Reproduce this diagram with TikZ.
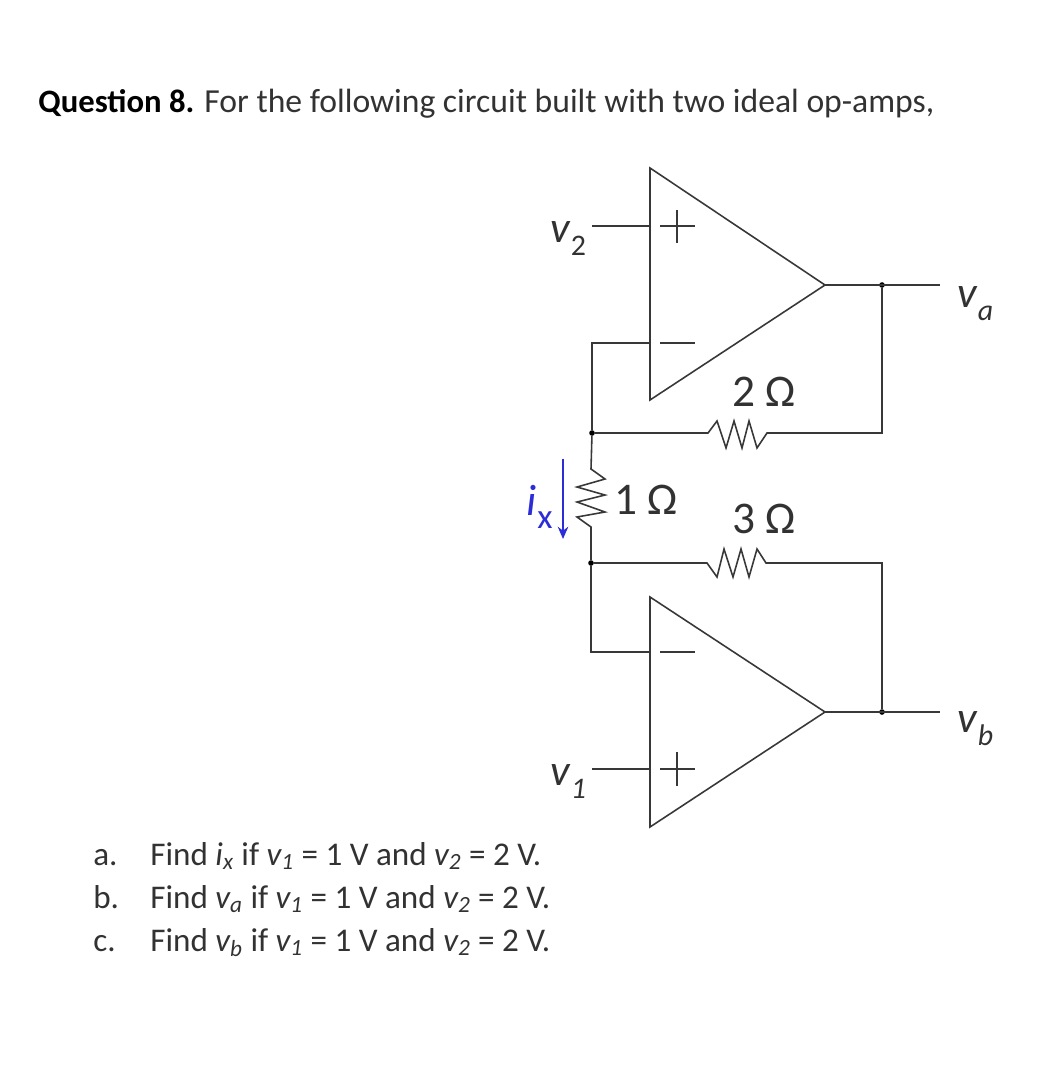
\documentclass[tikz,border=0pt]{standalone}
\usepackage{fontspec}
\usetikzlibrary{arrows.meta}
\setmainfont{Carlito}
\definecolor{inkgray}{RGB}{56,56,56}
\definecolor{txtgray}{RGB}{50,50,50}
\definecolor{ixblue}{RGB}{45,45,215}
\tikzset{wire/.style={draw=inkgray,line width=0.9pt},
	dot node/.style={circle,fill=black,inner sep=0pt,minimum size=3.2pt},
	line text/.style={anchor=base west,inner sep=0pt,text=txtgray,font=\fontsize{18.85}{22}\selectfont},
	big text/.style={inner sep=0pt,text=txtgray,font=\fontsize{25.8}{30}\selectfont},
	volt text/.style={anchor=base west,inner sep=0pt,text=txtgray,font=\fontsize{25}{30}\selectfont\itshape},
	}
\newcommand{\vs}[2]{{\itshape #1}\textsubscript{\itshape #2}}
\newcommand{\lowsub}[1]{\hspace{0.02em}\raisebox{-7.4pt}{\fontsize{17}{20}\selectfont #1}}
\begin{document}
\begin{tikzpicture}[x=0.02cm,y=-0.02cm]
	\useasboundingbox (0,0) rectangle (1051,1071);
	\node[line text,font=\fontsize{19.15}{22}\selectfont] (title) at (38,113) {{\fontsize{18.6}{22}\selectfont\textbf{\textcolor{black}{Question 8.}}} For the following circuit built with two ideal op-amps,};
	
	% upper op-amp
	\coordinate (A1) at (650,168);
	\coordinate (A2) at (825,285);
	\coordinate (A3) at (650,400);
	\draw[wire] (A1) -- (A2) -- (A3) -- cycle;
	\coordinate (Ap) at (650,226);
	\coordinate (An) at (650,343);
	\draw[wire] (660,226) -- (695,226) (677,210) -- (677,243);
	\draw[wire] (660,343) -- (695,343);
	
	% lower op-amp
	\coordinate (B1) at (650,597);
	\coordinate (B2) at (825,712);
	\coordinate (B3) at (650,827);
	\draw[wire] (B1) -- (B2) -- (B3) -- cycle;
	\coordinate (Bp) at (650,769);
	\coordinate (Bn) at (650,652);
	\draw[wire] (660,769) -- (695,769) (677,752) -- (677,786);
	\draw[wire] (660,652) -- (695,652);
	
	% junctions and free ends
	\node[dot node] (J1) at (592,433) {};
	\node[dot node] (J2) at (591,563) {};
	\node[dot node] (J3) at (882,285) {};
	\node[dot node] (J4) at (882,712) {};
	\coordinate (C1) at (592,343);
	\coordinate (C2) at (591,652);
	\coordinate (C3) at (882,433);
	\coordinate (C4) at (882,563);
	\coordinate (Va) at (940,285);
	\coordinate (Vb) at (940,712);
	\coordinate (V2) at (592,226);
	\coordinate (V1) at (592,769);
	
	\draw[wire] (V2) -- (Ap);
	\draw[wire] (V1) -- (Bp);
	\draw[wire] (A2) -- (Va);
	\draw[wire] (B2) -- (Vb);
	\draw[wire] (An) -- (C1) -- (J1);
	\draw[wire] (Bn) -- (C2) -- (J2);
	
	% resistors
	\coordinate (R2a) at (708,433);
	\coordinate (R2b) at (767,433);
	\draw[wire] (J1) -- (R2a) -- ++(9,-12) -- ++(9,27) -- ++(8,-27) -- ++(8,27) -- ++(7,-27) -- ++(8,27) -- (R2b) -- (C3) -- (J3);
	\coordinate (R3a) at (707,563);
	\coordinate (R3b) at (766,563);
	\draw[wire] (J2) -- (R3a) -- ++(10,14) -- ++(7,-28) -- ++(9,28) -- ++(8,-28) -- ++(8,28) -- ++(8,-28) -- (R3b) -- (C4) -- (J4);
	\coordinate (R1a) at (591,469);
	\coordinate (R1b) at (591,527);
	\draw[wire] (J1) -- (R1a) -- ++(14,10) -- ++(-28,8) -- ++(28,8) -- ++(-28,7) -- ++(28,10) -- ++(-28,5) -- (R1b) -- (J2);
	
	% current arrow
	\coordinate (I1) at (563,459);
	\coordinate (I2) at (563,539);
	\draw[draw=ixblue,line width=0.9pt,-{Stealth[length=7pt,width=6pt]}] (I1) -- (I2);
	
	% labels
	\node[big text] (R2t) at (764,392) {2 Ω};
	\node[big text] (R1t) at (646,500) {1 Ω};
	\node[big text] (R3t) at (764,519) {3 Ω};
	\node[volt text] (v2t) at (550,242) {v\lowsub{\upshape 2}};
	\node[volt text] (v1t) at (550,785) {v\lowsub{1}};
	\node[volt text] (vat) at (957,307) {v\lowsub{a}};
	\node[volt text] (vbt) at (957,732) {v\lowsub{b}};
	\node[volt text,text=ixblue] (ixt) at (526,515) {i\lowsub{\upshape\fontsize{20}{22}\selectfont x}};
	
	\node[line text] (qa) at (93,865) {a.};
	\node[line text] (qb) at (93,908) {b.};
	\node[line text] (qc) at (93,951) {c.};
	\node[line text] (ta) at (150,865) {Find \vs{i}{x} if \vs{v}{1} = 1 V and \vs{v}{2} = 2 V.};
	\node[line text] (tb) at (150,908) {Find \vs{v}{a} if \vs{v}{1} = 1 V and \vs{v}{2} = 2 V.};
	\node[line text] (tc) at (150,951) {Find \vs{v}{b} if \vs{v}{1} = 1 V and \vs{v}{2} = 2 V.};
\end{tikzpicture}
\end{document}
